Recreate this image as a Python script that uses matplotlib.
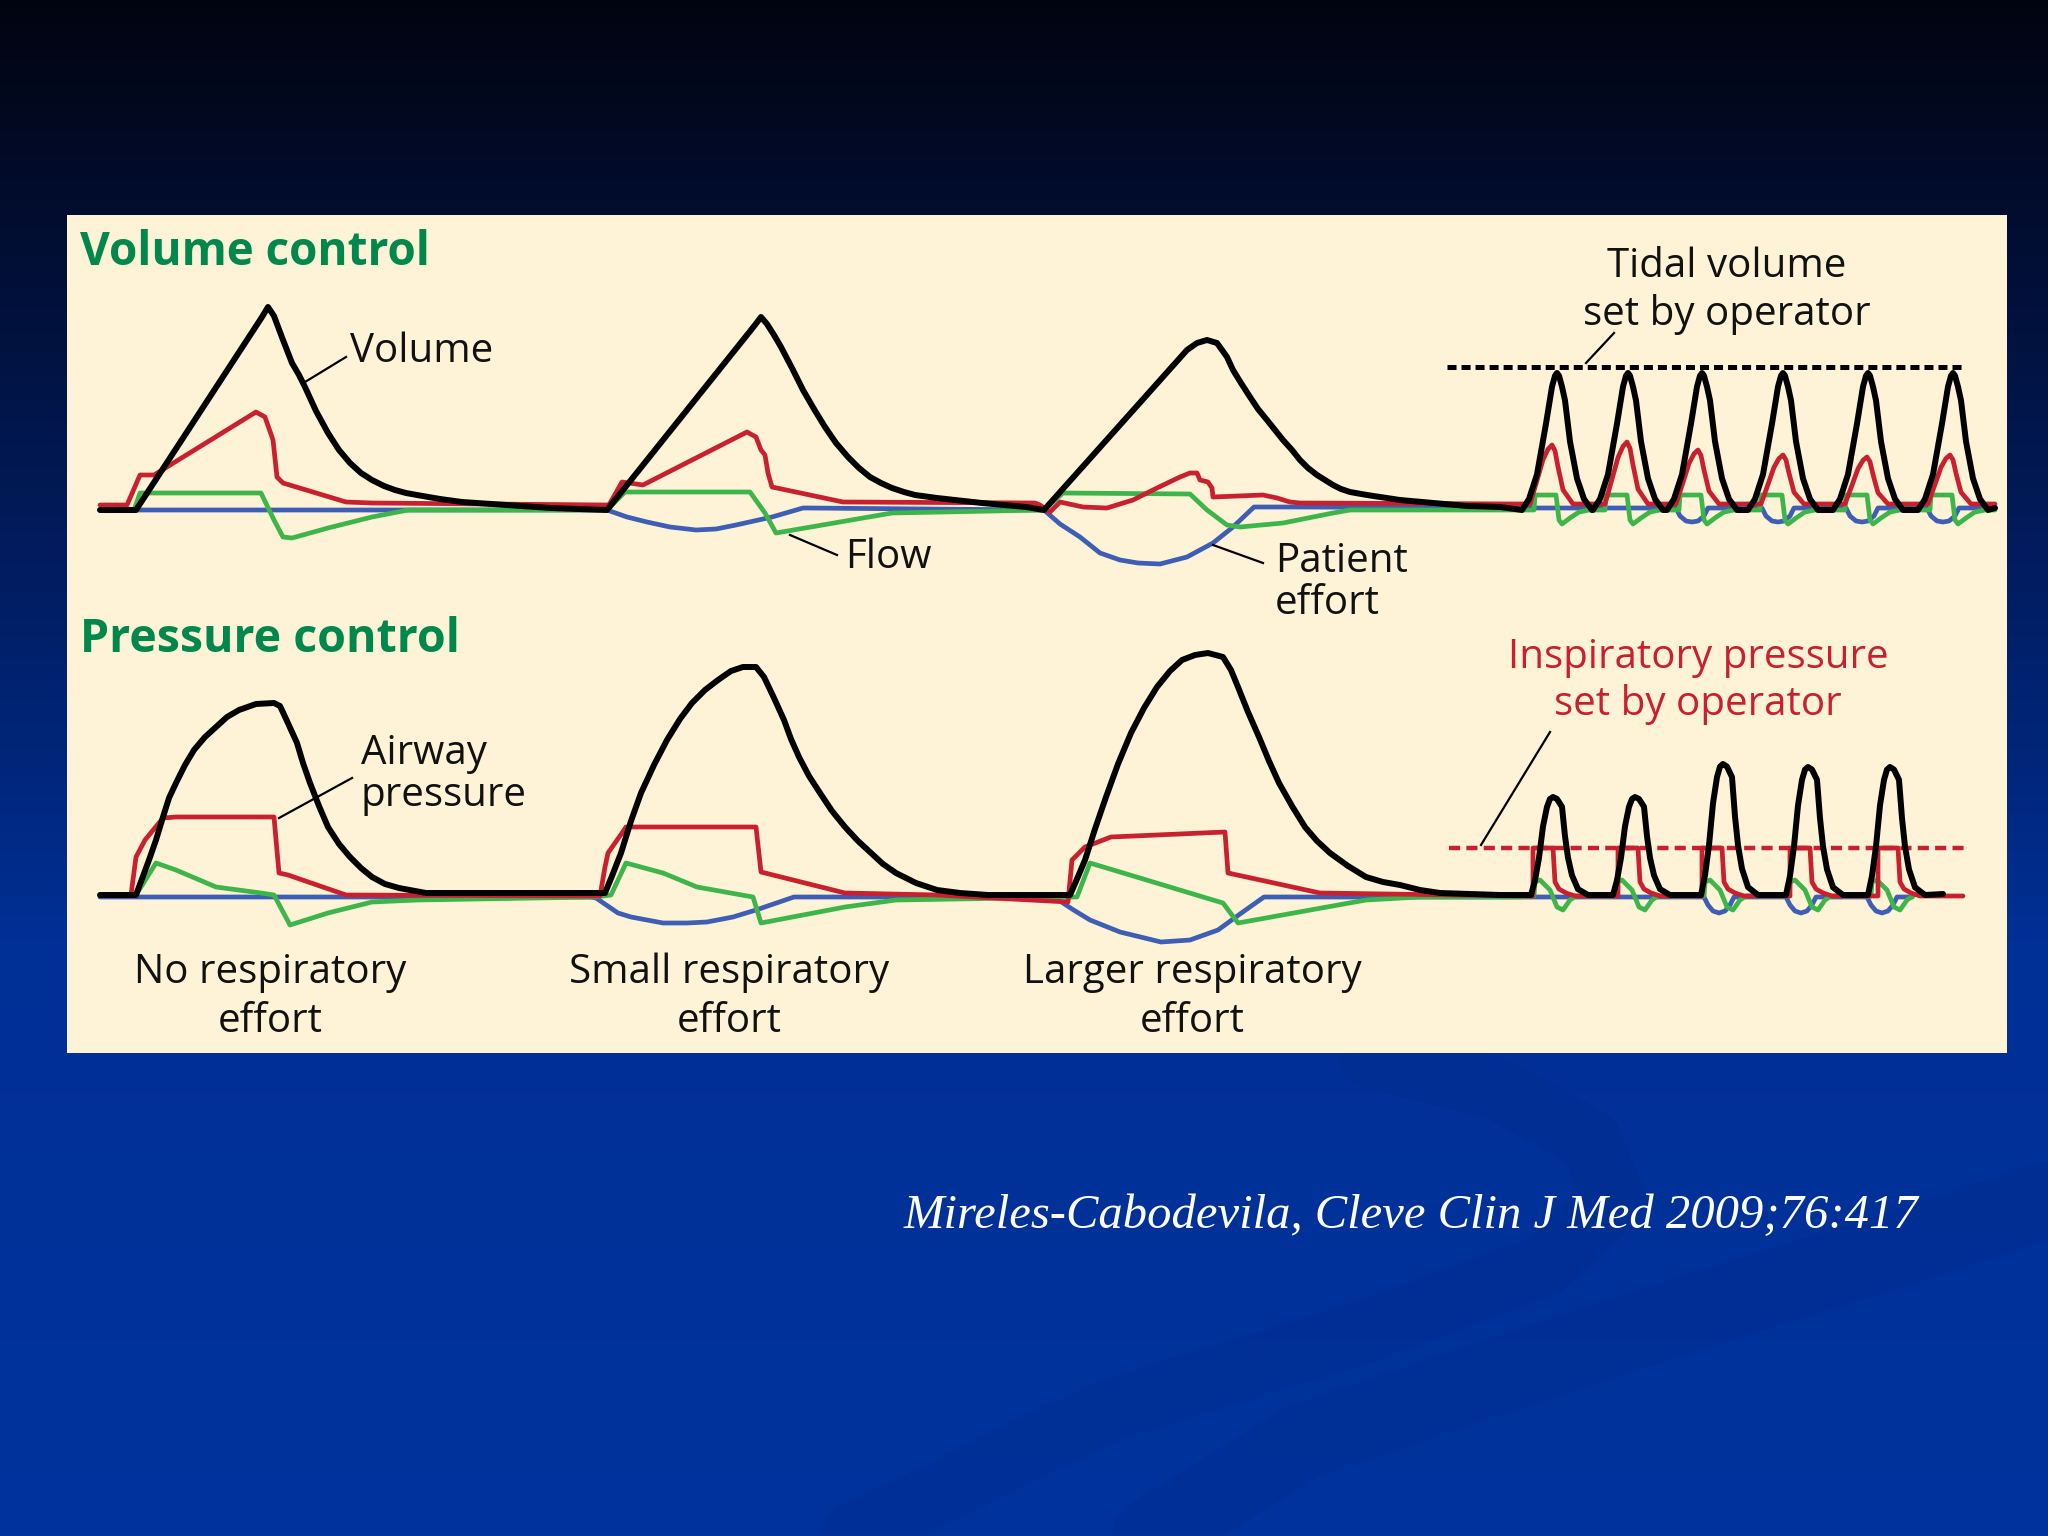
import numpy as np
import matplotlib.pyplot as plt
from matplotlib.patches import Rectangle

plt.rcParams['lines.scale_dashes'] = False

# Waveforms: t = time (px along the panel), h = height above the row baseline (px)

# ---- Volume control row ----
vc_vol_t = [100, 136, 262, 268, 274, 283, 292, 299, 305, 316, 328, 339, 350, 361, 372, 384, 395, 406, 417,
            440, 462, 506, 551, 607,
            755, 761, 767, 774, 781, 792, 803, 814, 825, 836, 848, 859, 870, 881, 892, 904, 915, 937,
            982, 1026, 1044,
            1187, 1197, 1207, 1217, 1227, 1233, 1241, 1250, 1258, 1267, 1275, 1283, 1292, 1300, 1308,
            1317, 1325, 1333, 1341, 1350, 1367, 1400, 1433, 1467, 1500]
vc_vol_h = [0, 0, 193, 203, 194, 170, 147, 135, 123, 99, 77, 60, 47, 37, 30, 24, 20, 17, 15,
            11, 8, 5, 2, 0,
            185, 193, 186, 175, 163, 142, 120, 101, 83, 67, 53, 42, 33, 27, 22, 18, 15, 12,
            7, 3, 0,
            160, 167, 170, 167, 153, 140, 127, 113, 101, 90, 80, 70, 60, 50, 42,
            35, 30, 25, 21, 18, 15, 10, 7, 4, 3]

vc_prs_t = [100, 127, 140, 154, 256, 265, 273, 277, 283, 346, 372, 607,
            609, 622, 643, 747, 756, 761, 765, 768, 772, 843, 1035,
            1040, 1050, 1060, 1083, 1107, 1133, 1157, 1180, 1190, 1197, 1200, 1208, 1212, 1213,
            1263, 1277, 1290, 1300, 1520]
vc_prs_h = [5, 5, 35, 35, 98, 93, 70, 33, 27, 8, 7, 5,
            5, 28, 25, 78, 73, 60, 55, 37, 23, 8, 7,
            5, -2, 8, 3, 2, 10, 22, 33, 37, 37, 30, 28, 22, 13,
            15, 12, 8, 7, 6]

vc_flow_t = [100, 134, 140, 256, 261, 274, 283, 292, 328, 372, 408, 607,
             625, 750, 765, 776, 892, 1044,
             1063, 1190, 1207, 1227, 1240, 1283, 1333, 1350, 1520]
vc_flow_h = [0, 0, 17, 17, 17, -10, -27, -28, -18, -7, 0, 0,
             18, 18, -3, -23, -3, 0,
             17, 16, 0, -15, -17, -13, -3, 0, 0]

vc_eff_t = [100, 607, 627, 647, 670, 696, 716, 736, 772, 803, 808, 1044, 1060, 1080, 1100, 1120, 1138, 1160,
            1187, 1213, 1233, 1254, 1300, 1520]
vc_eff_h = [0, 0, -7, -12, -17, -20, -19, -15, -7, 2, 2, 0, -14, -27, -43, -50, -53, -54,
            -47, -33, -17, 3, 3, 2]

# fast breaths on the right (volume control)
vc_peaks = [1557, 1628, 1702, 1783, 1868, 1953]
vc_peak_h = [137, 137, 137, 137, 137, 137]
vc_vol_dx = [-35, -28, -20, -11, -5, -2, 0, 2, 5, 8, 13, 20, 27, 35]
vc_vol_fr = [0, .08, .26, .63, .9, .98, 1, .98, .9, .8, .5, .23, .08, 0]

vc_prs_peaks = [1552, 1627, 1698, 1783, 1867, 1950]
vc_prs_peak_h = [59, 62, 54, 49, 47, 49]
vc_prs_dx = [-22, -15, -9, -4, 0, 3, 6, 11, 21]
vc_prs_fr = [0, .4, .75, .93, 1, .9, .63, .24, 0]

vc_flow_dx = [-23, -22, -1, 2, 5, 13, 22, 32]
vc_flow_v = [0, 15, 15, -10, -14, -8, -2, 0]

vc_eff_dips = [1692, 1778, 1862, 1943]
vc_eff_dx = [-16, -12, -6, 0, 6, 12, 16]
vc_eff_v = [0, -8, -13, -14, -13, -8, 0]

tidal_volume = 143

# ---- Pressure control row ----
pc_vol_t = [100, 136, 149, 156, 163, 169, 176, 185, 194, 205, 216, 227, 239, 256, 274, 280, 287,
            297, 303, 310, 319, 328, 339, 350, 361, 372, 385, 399, 426, 605,
            612, 621, 631, 641, 654, 667, 680, 692, 705, 718, 731, 743, 756, 764, 774, 784, 791, 799,
            809, 820, 832, 845, 858, 871, 883, 896, 916, 937, 960, 988, 1070,
            1077, 1085, 1095, 1106, 1118, 1131, 1144, 1157, 1170, 1182, 1195, 1208, 1223, 1231, 1238,
            1248, 1259, 1269, 1279, 1292, 1305, 1317, 1330, 1348, 1366, 1383, 1400, 1420, 1440, 1500]
pc_vol_h = [1, 1, 36, 56, 79, 98, 113, 131, 146, 159, 169, 179, 186, 192, 193, 190, 175,
            153, 133, 113, 90, 69, 52, 39, 28, 19, 12, 8, 3, 3,
            20, 43, 75, 103, 131, 156, 177, 193, 206, 216, 225, 229, 229, 219, 198, 176, 157, 139,
            120, 103, 85, 69, 55, 43, 32, 23, 13, 6, 3, 1, 1,
            17, 36, 67, 99, 132, 163, 188, 209, 225, 236, 241, 243, 239, 226, 209,
            184, 159, 135, 113, 90, 69, 55, 43, 30, 19, 14, 11, 6, 3, 1]

pc_prs_t = [100, 131, 136, 145, 163, 176, 274, 279, 288, 346,
            600, 605, 608, 622, 626, 756, 761, 845, 937,
            1068, 1072, 1085, 1111, 1225, 1228, 1320, 1520]
pc_prs_h = [1, 1, 39, 56, 78, 79, 79, 23, 21, 1,
            0, 29, 43, 63, 69, 69, 24, 3, 1,
            -6, 36, 49, 59, 64, 23, 3, 0]

pc_flow_t = [100, 136, 156, 176, 216, 261, 274, 290, 328, 372, 417, 596,
             611, 626, 663, 697, 753, 761, 845, 896,
             1077, 1090, 1223, 1238, 1366, 1420, 1520]
pc_flow_h = [1, 1, 33, 26, 9, 3, 1, -29, -17, -6, -4, -1,
             1, 33, 23, 9, -1, -27, -11, -4,
             -1, 33, -7, -27, -4, -1, -1]

pc_eff_t = [100, 590, 596, 618, 631, 663, 687, 707, 733, 756, 794,
            1054, 1072, 1090, 1120, 1161, 1190, 1218, 1240, 1264, 1520]
pc_eff_h = [-1, -1, -2, -17, -21, -27, -27, -26, -21, -14, -1,
            -1, -13, -24, -36, -46, -44, -34, -18, -1, -1]

# fast breaths on the right (pressure control)
pc_peaks = [1553, 1635, 1723, 1808, 1890]
pc_peak_h = [98, 98, 131, 128, 128]
pc_vol_dx = [-22, -18, -14, -10, -6, -3, 0, 4, 9, 12, 15, 19, 25, 35]
pc_vol_fr = [0, .15, .38, .7, .9, .98, 1, .98, .9, .6, .38, .2, .06, 0]

pc_sq_start = [1533, 1618, 1702, 1790, 1878]
pc_sq_dx = [0, 0, 20, 22, 26, 33, 42]
pc_sq_v = [0, 48, 48, 14, 7, 3, 0]

pc_flow_dx = [-19, -18, -13, -3, 4, 10, 17, 23]
pc_flow_v = [0, 14, 16, 6, -11, -14, -4, 0]

pc_eff_dips = [1719, 1801, 1882]
pc_eff_dx = [-15, -11, -6, 0, 6, 11, 15]
pc_eff_v = [0, -8, -14, -16, -14, -8, 0]

insp_pressure = 48

# ---- layout / style ----
W, H = 2048, 1536
VC_BASE, PC_BASE = 510, 896
CREAM = '#FEF3D6'
BLACK, RED, GREEN, BLUE = '#000000', '#C8202F', '#3DB54A', '#3E5DB5'
HEAD_GREEN = '#00874C'
SANS = 'Open Sans'
LW_BLACK, LW_COL = 4.3, 3.4


def add_pulses(t, h, centers, amps, dx, fr, end, base=0.0):
    tt, hh = list(t), list(h)
    for c, a in zip(centers, amps):
        tt += [c + d for d in dx]
        hh += [base + a * f for f in fr]
    tt.append(end[0])
    hh.append(end[1])
    return np.array(tt), np.array(hh)


fig = plt.figure(figsize=(W / 100, H / 100), dpi=100)
ax = fig.add_axes([0, 0, 1, 1])
ax.set_xlim(0, W)
ax.set_ylim(H, 0)
ax.axis('off')

# slide background: dark navy at the top fading into blue
ys = np.linspace(0, H, 400)
stops_y = [0, 220, 600, 950, 1536]
stops_c = np.array([[1, 4, 16], [2, 13, 48], [1, 30, 100], [0, 48, 150], [0, 51, 158]]) / 255
grad = np.stack([np.interp(ys, stops_y, stops_c[:, k]) for k in range(3)], axis=-1)
ax.imshow(grad[:, None, :], extent=(0, W, H, 0), aspect='auto', zorder=0)

# faint swooshes in the lower right
ax.plot([1370, 1500, 1590, 1615, 1545, 1370, 1110, 850], [1057, 1090, 1140, 1200, 1265, 1330, 1410, 1536],
        color='#001a60', alpha=0.09, lw=45, solid_capstyle='round', zorder=0.5)
ax.plot([2048, 1895, 1700, 1500, 1306, 1150], [1200, 1250, 1310, 1375, 1440, 1536],
        color='#001a60', alpha=0.09, lw=55, solid_capstyle='round', zorder=0.5)

ax.add_patch(Rectangle((67, 215), 1940, 838, facecolor=CREAM, edgecolor='none', zorder=1))

line_kw = dict(solid_joinstyle='round', solid_capstyle='round')

# volume control curves
t, h = add_pulses(vc_eff_t, vc_eff_h, vc_eff_dips, [1] * 4, vc_eff_dx, vc_eff_v, (1995, 2), base=2)
ax.plot(t, VC_BASE - h, color=BLUE, lw=LW_COL, zorder=3, **line_kw)
t, h = add_pulses(vc_flow_t, vc_flow_h, vc_peaks, [1] * 6, vc_flow_dx, vc_flow_v, (1995, 0))
ax.plot(t, VC_BASE - h, color=GREEN, lw=LW_COL, zorder=4, **line_kw)
t, h = add_pulses(vc_prs_t, vc_prs_h, vc_prs_peaks, vc_prs_peak_h, vc_prs_dx, vc_prs_fr, (1995, 6), base=6)
ax.plot(t, VC_BASE - h, color=RED, lw=LW_COL, zorder=5, **line_kw)
t, h = add_pulses(vc_vol_t, vc_vol_h, vc_peaks, vc_peak_h, vc_vol_dx, vc_vol_fr, (1995, 2))
ax.plot(t, VC_BASE - h, color=BLACK, lw=LW_BLACK, zorder=6, **line_kw)
ax.plot([1447, 1963], [VC_BASE - tidal_volume] * 2, color=BLACK, lw=3.6,
        dashes=(6.5, 3.6), zorder=6)

# pressure control curves
t, h = add_pulses(pc_eff_t, pc_eff_h, pc_eff_dips, [1] * 3, pc_eff_dx, pc_eff_v, (1912, -1), base=-1)
ax.plot(t, PC_BASE - h, color=BLUE, lw=LW_COL, zorder=3, **line_kw)
t, h = add_pulses(pc_flow_t, pc_flow_h, pc_peaks, [1] * 5, pc_flow_dx, pc_flow_v, (1912, -1))
ax.plot(t, PC_BASE - h, color=GREEN, lw=LW_COL, zorder=4, **line_kw)
t, h = add_pulses(pc_prs_t, pc_prs_h, pc_sq_start, [1] * 5, pc_sq_dx, pc_sq_v, (1963, 0))
ax.plot(t, PC_BASE - h, color=RED, lw=LW_COL, zorder=5, **line_kw)
t, h = add_pulses(pc_vol_t, pc_vol_h, pc_peaks, pc_peak_h, pc_vol_dx, pc_vol_fr, (1943, 2), base=1)
ax.plot(t, PC_BASE - h, color=BLACK, lw=LW_BLACK, zorder=6, **line_kw)
ax.plot([1449, 1967], [PC_BASE - insp_pressure] * 2, color=RED, lw=3.2,
        dashes=(8, 4.5), zorder=5)

# leader lines
leaders = [((305, 382), (346, 357)), ((790, 535), (837, 555)), ((1213, 545), (1263, 563)),
           ((279, 818), (352, 778)), ((1586, 363), (1614, 333)), ((1481, 845), (1550, 732))]
for (x0, y0), (x1, y1) in leaders:
    ax.plot([x0, x1], [y0, y1], color=BLACK, lw=1.6, zorder=7)

# headings
ax.text(80, 265, 'Volume control', color=HEAD_GREEN, fontsize=33, fontweight='bold',
        family=SANS, va='baseline', ha='left', zorder=8)
ax.text(80, 652, 'Pressure control', color=HEAD_GREEN, fontsize=33.5, fontweight='bold',
        family=SANS, va='baseline', ha='left', zorder=8)

lab = dict(fontsize=29, family=SANS, color='#111111', va='baseline', zorder=8)
ax.text(350, 362, 'Volume', ha='left', **lab)
ax.text(845, 568, 'Flow', ha='left', **lab)
ax.text(1275, 572, 'Patient', ha='left', **lab)
ax.text(1275, 614, 'effort', ha='left', **lab)
ax.text(361, 764, 'Airway', ha='left', **lab)
ax.text(361, 806, 'pressure', ha='left', **lab)
ax.text(1727, 277, 'Tidal volume', ha='center', **lab)
ax.text(1727, 325, 'set by operator', ha='center', **lab)

red_lab = dict(lab, color=RED)
ax.text(1698, 668, 'Inspiratory pressure', ha='center', **red_lab)
ax.text(1698, 715, 'set by operator', ha='center', **red_lab)

for cx, first in [(270, 'No respiratory'), (729, 'Small respiratory'), (1192, 'Larger respiratory')]:
    ax.text(cx, 983, first, ha='center', **lab)
    ax.text(cx, 1032, 'effort', ha='center', **lab)

ax.text(1411, 1228, 'Mireles-Cabodevila, Cleve Clin J Med 2009;76:417', color='white',
        fontsize=35, family='Liberation Serif', style='italic', ha='center', va='baseline', zorder=8)

fig.savefig('out.png', dpi=100)
